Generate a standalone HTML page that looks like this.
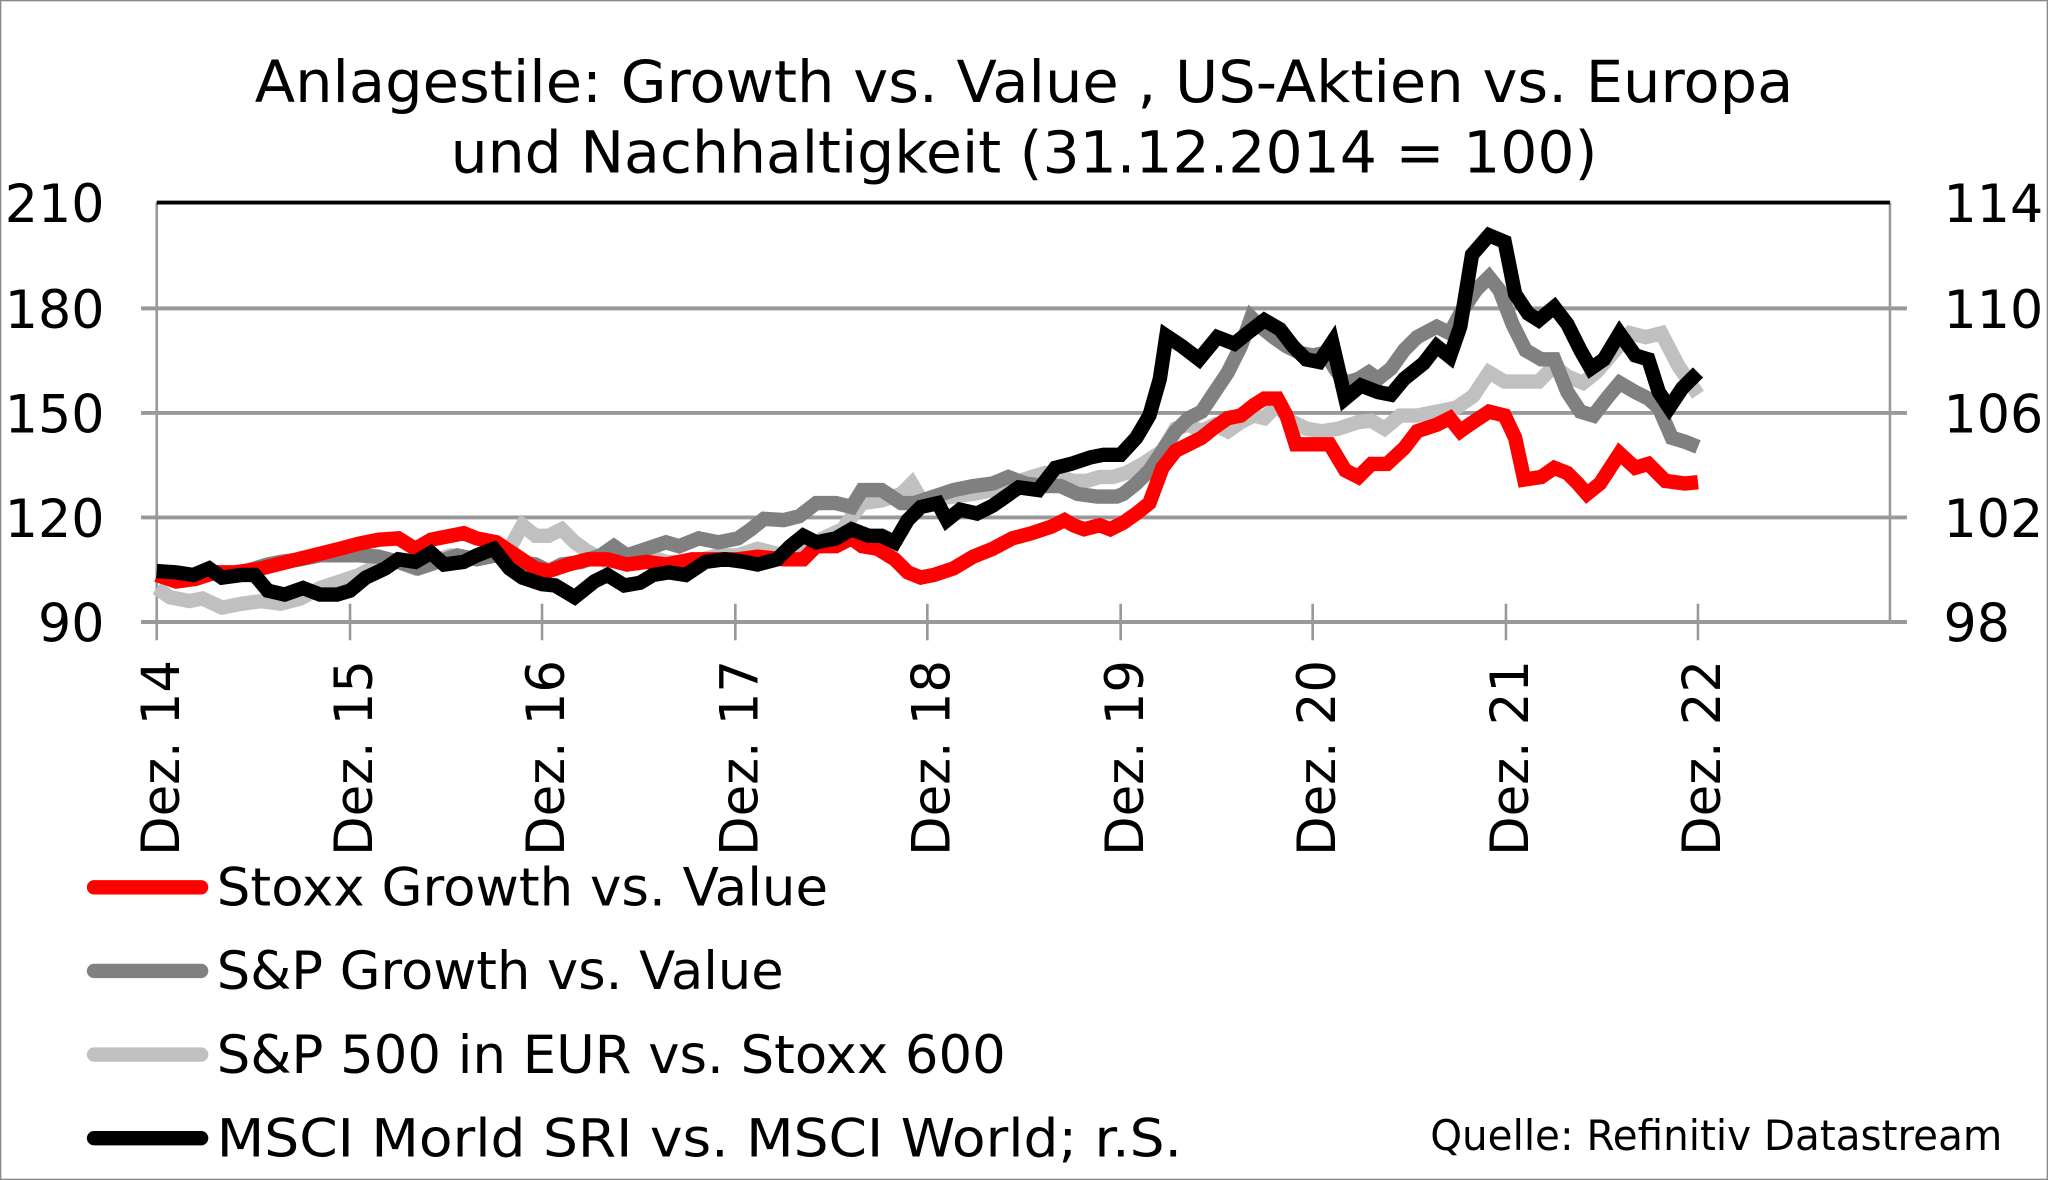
<!DOCTYPE html>
<html><head><meta charset="utf-8"><style>
html,body{margin:0;padding:0;background:#fff;}
svg{display:block;}
text{font-family:"DejaVu Sans","Liberation Sans",sans-serif;fill:#000;}
</style></head><body>
<svg width="2048" height="1180" viewBox="0 0 1568 903" preserveAspectRatio="none" xmlns="http://www.w3.org/2000/svg">
<rect x="0.5" y="0.5" width="1567" height="902" fill="#fff" stroke="#888" stroke-width="1"/>
<text x="784" y="78" font-size="44" text-anchor="middle" textLength="1178" lengthAdjust="spacingAndGlyphs">Anlagestile: Growth vs. Value , US-Aktien vs. Europa</text>
<text x="784" y="132" font-size="44" text-anchor="middle" textLength="878" lengthAdjust="spacingAndGlyphs">und Nachhaltigkeit (31.12.2014 = 100)</text>
<g stroke="#999" stroke-width="3">
<line x1="108" y1="236" x2="1460" y2="236"/>
<line x1="108" y1="316" x2="1460" y2="316"/>
<line x1="108" y1="396" x2="1460" y2="396"/>
<line x1="108" y1="476" x2="1460" y2="476"/>
</g>
<g stroke="#999" stroke-width="2">
<line x1="120" y1="155" x2="120" y2="490"/>
<line x1="1447" y1="155" x2="1447" y2="476"/>
<line x1="268" y1="462" x2="268" y2="490"/><line x1="415" y1="462" x2="415" y2="490"/>
<line x1="563" y1="462" x2="563" y2="490"/><line x1="710" y1="462" x2="710" y2="490"/>
<line x1="858" y1="462" x2="858" y2="490"/><line x1="1005" y1="462" x2="1005" y2="490"/>
<line x1="1153" y1="462" x2="1153" y2="490"/><line x1="1300" y1="462" x2="1300" y2="490"/>
</g>
<line x1="120" y1="155" x2="1447" y2="155" stroke="#000" stroke-width="3"/>
<g font-size="40">
<text x="80" y="170" text-anchor="end">210</text>
<text x="80" y="251" text-anchor="end">180</text>
<text x="80" y="331" text-anchor="end">150</text>
<text x="80" y="411" text-anchor="end">120</text>
<text x="80" y="491" text-anchor="end">90</text>
<text x="1488" y="170">114</text>
<text x="1488" y="251">110</text>
<text x="1488" y="331">106</text>
<text x="1488" y="411">102</text>
<text x="1488" y="491">98</text>
</g>
<g font-size="40">
<text transform="translate(137,655) rotate(-90)" textLength="150" lengthAdjust="spacingAndGlyphs">Dez. 14</text>
<text transform="translate(285,655) rotate(-90)" textLength="150" lengthAdjust="spacingAndGlyphs">Dez. 15</text>
<text transform="translate(432,655) rotate(-90)" textLength="150" lengthAdjust="spacingAndGlyphs">Dez. 16</text>
<text transform="translate(580,655) rotate(-90)" textLength="150" lengthAdjust="spacingAndGlyphs">Dez. 17</text>
<text transform="translate(727,655) rotate(-90)" textLength="150" lengthAdjust="spacingAndGlyphs">Dez. 18</text>
<text transform="translate(875,655) rotate(-90)" textLength="150" lengthAdjust="spacingAndGlyphs">Dez. 19</text>
<text transform="translate(1022,655) rotate(-90)" textLength="150" lengthAdjust="spacingAndGlyphs">Dez. 20</text>
<text transform="translate(1170,655) rotate(-90)" textLength="150" lengthAdjust="spacingAndGlyphs">Dez. 21</text>
<text transform="translate(1317,655) rotate(-90)" textLength="150" lengthAdjust="spacingAndGlyphs">Dez. 22</text>
</g>
<g fill="none" stroke-width="11" stroke-linejoin="miter" stroke-linecap="butt">
<polyline stroke="#c0c0c0" points="120,450 130,457 145,460 155,458 170,465 185,462 200,460 215,462 230,458 245,450 260,445 275,440 290,432 305,430 318,435 330,430 345,425 360,428 375,425 390,420 400,402 410,410 420,410 430,405 440,415 450,422 465,430 480,428 495,425 510,430 530,430 550,425 565,425 580,420 600,425 615,423 630,412 645,405 660,385 675,383 690,378 698,370 705,382 715,382 730,380 745,378 760,375 775,370 790,365 800,362 810,365 822,368 832,368 842,365 852,365 862,362 875,355 890,345 900,328 910,325 920,330 930,325 940,330 950,323 960,318 968,320 978,310 988,322 1000,328 1012,330 1025,328 1040,323 1050,322 1060,328 1072,318 1085,318 1100,315 1115,312 1128,303 1140,285 1152,292 1165,292 1178,292 1190,280 1200,288 1212,293 1222,285 1235,270 1248,255 1260,258 1272,255 1285,280 1300,302"/>
<polyline stroke="#808080" points="120,440 135,443 150,440 165,438 180,440 195,435 205,432 215,430 230,428 245,425 260,425 275,425 290,426 305,430 320,435 335,430 350,425 365,428 380,425 395,430 410,432 420,437 430,432 445,430 460,425 470,418 480,425 495,420 510,415 520,418 535,412 550,415 565,412 575,405 585,397 600,398 612,395 625,385 640,385 652,388 660,375 675,375 690,385 700,385 715,380 730,375 745,372 760,370 772,365 785,370 800,372 812,372 825,378 840,380 855,380 860,378 870,370 880,360 890,345 900,330 910,320 920,315 930,300 940,285 950,265 958,243 965,250 975,258 985,265 995,270 1005,272 1015,270 1022,282 1030,293 1040,290 1048,285 1055,290 1065,282 1075,268 1085,258 1100,250 1110,255 1118,240 1130,222 1140,212 1148,222 1158,248 1168,268 1180,275 1190,275 1200,300 1210,315 1220,318 1230,305 1240,293 1252,300 1262,305 1270,312 1280,335 1290,338 1300,342"/>
<polyline stroke="#ff0000" points="120,440 135,445 150,443 165,438 180,438 200,435 220,430 240,425 260,420 275,416 290,413 305,412 318,420 330,413 345,410 355,408 365,412 380,415 395,425 410,435 420,437 435,432 450,428 465,428 480,432 495,430 510,432 530,428 550,428 565,428 580,426 600,428 615,428 625,418 640,418 652,412 660,418 672,420 685,428 695,438 705,442 715,440 730,435 745,426 760,420 775,412 790,408 805,403 815,398 822,402 830,405 842,402 850,405 860,400 870,393 880,385 890,358 900,345 910,340 920,335 930,327 940,320 950,318 960,310 968,305 978,305 985,318 992,340 1005,340 1018,340 1030,360 1040,365 1050,355 1062,355 1075,343 1085,330 1100,325 1110,320 1118,330 1125,325 1140,315 1152,318 1160,335 1167,367 1180,365 1190,358 1200,362 1208,370 1215,378 1225,370 1240,347 1252,358 1262,355 1275,368 1290,370 1300,369"/>
<polyline stroke="#000" points="120,437 135,438 148,440 160,435 170,442 185,440 195,440 205,452 218,455 232,450 245,455 258,455 268,452 280,442 295,435 305,428 318,430 330,423 340,432 355,430 365,425 378,420 390,435 400,442 415,447 425,448 440,457 455,445 465,440 478,448 490,446 500,440 512,438 525,440 540,430 555,428 570,430 580,432 595,428 605,418 615,410 625,415 640,412 652,405 665,410 675,410 685,415 695,398 705,388 718,385 725,398 735,390 748,393 760,387 770,380 780,373 795,375 808,358 820,355 835,350 845,348 858,348 870,335 880,318 888,290 893,257 905,265 918,275 932,258 945,263 955,255 968,245 980,252 990,265 1000,275 1010,277 1020,262 1030,305 1042,295 1055,300 1065,302 1075,290 1090,278 1100,265 1110,273 1118,250 1127,195 1140,180 1152,185 1160,225 1170,240 1178,245 1190,235 1200,248 1210,268 1218,282 1228,275 1240,255 1252,272 1262,275 1270,300 1278,312 1288,297 1300,285"/>
</g>
<g stroke-width="11" stroke-linecap="round">
<line x1="72" y1="679" x2="154" y2="679" stroke="#ff0000"/>
<line x1="72" y1="743" x2="154" y2="743" stroke="#808080"/>
<line x1="72" y1="807" x2="154" y2="807" stroke="#c0c0c0"/>
<line x1="72" y1="871" x2="154" y2="871" stroke="#000"/>
</g>
<g font-size="40">
<text x="166" y="693" textLength="468" lengthAdjust="spacingAndGlyphs">Stoxx Growth vs. Value</text>
<text x="166" y="757" textLength="434" lengthAdjust="spacingAndGlyphs">S&amp;P Growth vs. Value</text>
<text x="166" y="821" textLength="604" lengthAdjust="spacingAndGlyphs">S&amp;P 500 in EUR vs. Stoxx 600</text>
<text x="166" y="885" textLength="739" lengthAdjust="spacingAndGlyphs">MSCI Morld SRI vs. MSCI World; r.S.</text>
</g>
<text x="1095" y="880" font-size="32" textLength="438" lengthAdjust="spacingAndGlyphs">Quelle: Refinitiv Datastream</text>
</svg>
</body></html>
